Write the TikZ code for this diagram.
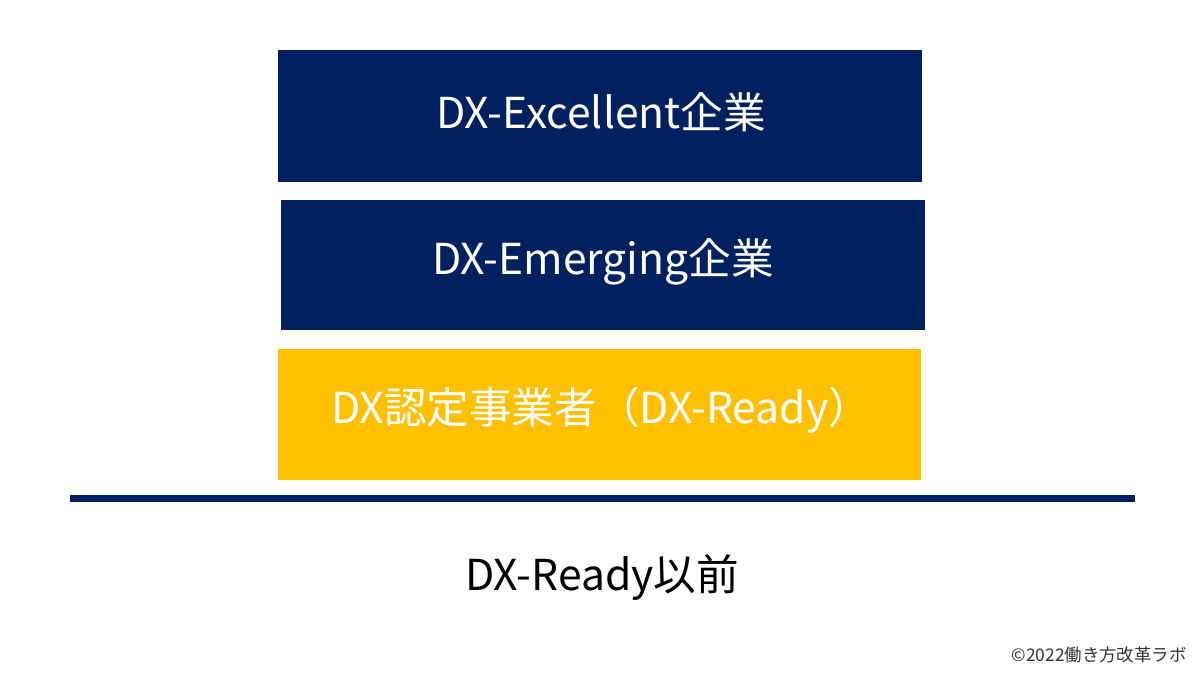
\documentclass[tikz,border=0pt]{standalone}
\usepackage{fontspec}
\setmainfont{Noto Sans CJK JP}
\definecolor{navy}{HTML}{002060}
\definecolor{gold}{HTML}{FFC000}
\begin{document}
\begin{tikzpicture}[x=0.5pt,y=-0.5pt,
  tier/.style={fill=navy,draw=none},
  tiertext/.style={text=white,font=\fontsize{21.3}{25}\selectfont,inner sep=0pt}]
\useasboundingbox (0,0) rectangle (1200,675);
\fill[tier] (278,50) rectangle (922,182);
\fill[tier] (281,200) rectangle (925,330);
\fill[gold] (278,349) rectangle (921,480);
\fill[navy] (70,495) rectangle (1135,502);
\node[tiertext] (t1) at (601,112) {DX-Excellent企業};
\node[tiertext] (t2) at (603,262) {DX-Emerging企業};
\node[tiertext] (t3) at (601,410) {DX認定事業者（DX-Ready）};
\node[inner sep=0pt,font=\fontsize{21.3}{25}\selectfont] (t4) at (602,577) {DX-Ready以前};
\node[inner sep=0pt,font=\fontsize{8.7}{10}\selectfont,text=black!80] (c) at (1099,655) {©2022働き方改革ラボ};
\end{tikzpicture}
\end{document}
